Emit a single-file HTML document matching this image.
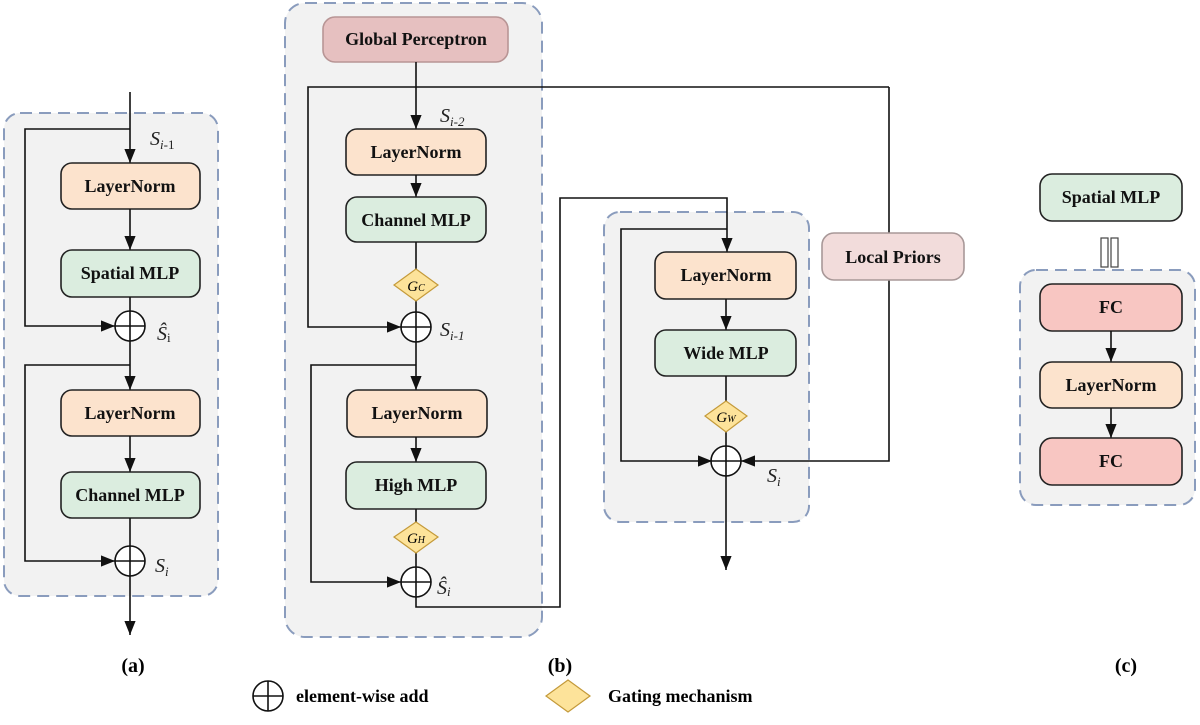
<!DOCTYPE html>
<html><head><meta charset="utf-8"><style>
html,body{margin:0;padding:0;background:#fff;}
svg{display:block;}
text{font-family:"Liberation Serif",serif;}
.b{font-weight:bold;font-size:18px;text-anchor:middle;fill:#111;}
.lab{font-style:italic;font-size:20px;fill:#222;}
.sub{font-style:italic;font-size:13px;}
.ln{stroke:#111;stroke-width:1.6;fill:none;}
.ct{fill:#f2f2f2;stroke:#8a9cbd;stroke-width:2;stroke-dasharray:12 7;}
.lnorm{fill:#fce3cd;stroke:#222;stroke-width:1.6;}
.mlp{fill:#dbeddf;stroke:#222;stroke-width:1.6;}
.dia{fill:#fde39a;stroke:#c49a3a;stroke-width:1.2;}
</style></head><body>
<svg width="1200" height="725" viewBox="0 0 1200 725" xmlns="http://www.w3.org/2000/svg">
<defs>
<marker id="a" viewBox="0 0 10 10" markerWidth="14" markerHeight="14" refX="10" refY="5" orient="auto" markerUnits="userSpaceOnUse">
<path d="M0,1 L10,5 L0,9 z" fill="#111"/>
</marker>
</defs>

<rect class="ct" x="4" y="113" width="214" height="483" rx="16"/>
<rect class="ct" x="285" y="3" width="257" height="634" rx="20"/>
<rect class="ct" x="604" y="212" width="205" height="310" rx="16"/>
<rect class="ct" x="1020" y="270" width="175" height="235" rx="16"/>

<!-- (a) -->
<line class="ln" x1="130" y1="92" x2="130" y2="163" marker-end="url(#a)"/>
<polyline class="ln" points="130,129 25,129 25,326 115,326" marker-end="url(#a)"/>
<rect class="lnorm" x="61" y="163" width="139" height="46" rx="11"/>
<text class="b" x="130" y="192">LayerNorm</text>
<line class="ln" x1="130" y1="209" x2="130" y2="250" marker-end="url(#a)"/>
<rect class="mlp" x="61" y="250" width="139" height="47" rx="11"/>
<text class="b" x="130" y="279">Spatial MLP</text>
<line class="ln" x1="130" y1="297" x2="130" y2="311"/>
<line class="ln" x1="130" y1="341" x2="130" y2="390" marker-end="url(#a)"/>
<polyline class="ln" points="130,365 25,365 25,561 115,561" marker-end="url(#a)"/>
<rect class="lnorm" x="61" y="390" width="139" height="46" rx="11"/>
<text class="b" x="130" y="419">LayerNorm</text>
<line class="ln" x1="130" y1="436" x2="130" y2="472" marker-end="url(#a)"/>
<rect class="mlp" x="61" y="472" width="139" height="46" rx="11"/>
<text class="b" x="130" y="501">Channel MLP</text>
<line class="ln" x1="130" y1="518" x2="130" y2="546"/>
<line class="ln" x1="130" y1="576" x2="130" y2="635" marker-end="url(#a)"/>
<g class="ln"><circle cx="130" cy="326" r="15" fill="#fff"/><line x1="115" y1="326" x2="145" y2="326"/><line x1="130" y1="311" x2="130" y2="341"/></g>
<g class="ln"><circle cx="130" cy="561" r="15" fill="#fff"/><line x1="115" y1="561" x2="145" y2="561"/><line x1="130" y1="546" x2="130" y2="576"/></g>
<text class="lab" x="150" y="145">S<tspan class="sub" dy="4">i</tspan><tspan font-size="13" font-style="normal">-1</tspan></text>
<text class="lab" x="157" y="340">Ŝ<tspan font-size="13" font-style="normal" dy="2">i</tspan></text>
<text class="lab" x="155" y="572">S<tspan class="sub" dy="4">i</tspan></text>
<text x="133" y="672" font-size="20" font-weight="bold" text-anchor="middle">(a)</text>

<!-- (b) -->
<rect x="323" y="17" width="185" height="45" rx="12" fill="#e6c0c0" stroke="#b89595" stroke-width="1.6"/>
<text class="b" x="416" y="45">Global Perceptron</text>
<line class="ln" x1="416" y1="62" x2="416" y2="129" marker-end="url(#a)"/>
<polyline class="ln" points="889,87 308,87 308,327 401,327" marker-end="url(#a)"/>
<rect class="lnorm" x="346" y="129" width="140" height="46" rx="11"/>
<text class="b" x="416" y="158">LayerNorm</text>
<line class="ln" x1="416" y1="175" x2="416" y2="197" marker-end="url(#a)"/>
<rect class="mlp" x="346" y="197" width="140" height="45" rx="11"/>
<text class="b" x="416" y="226">Channel MLP</text>
<line class="ln" x1="416" y1="242" x2="416" y2="312"/>
<polygon class="dia" points="416,269 438,285 416,301 394,285"/>
<text x="416" y="291" font-size="15" font-style="italic" text-anchor="middle">G<tspan font-size="10">C</tspan></text>
<line class="ln" x1="416" y1="342" x2="416" y2="390" marker-end="url(#a)"/>
<polyline class="ln" points="416,365 311,365 311,582 401,582" marker-end="url(#a)"/>
<rect class="lnorm" x="347" y="390" width="140" height="47" rx="11"/>
<text class="b" x="417" y="419">LayerNorm</text>
<line class="ln" x1="416" y1="437" x2="416" y2="462" marker-end="url(#a)"/>
<rect class="mlp" x="346" y="462" width="140" height="47" rx="11"/>
<text class="b" x="416" y="491">High MLP</text>
<line class="ln" x1="416" y1="509" x2="416" y2="567"/>
<polygon class="dia" points="416,522 438,537 416,553 394,537"/>
<text x="416" y="543" font-size="15" font-style="italic" text-anchor="middle">G<tspan font-size="10">H</tspan></text>
<g class="ln"><circle cx="416" cy="327" r="15" fill="#fff"/><line x1="401" y1="327" x2="431" y2="327"/><line x1="416" y1="312" x2="416" y2="342"/></g>
<g class="ln"><circle cx="416" cy="582" r="15" fill="#fff"/><line x1="401" y1="582" x2="431" y2="582"/><line x1="416" y1="567" x2="416" y2="597"/></g>
<polyline class="ln" points="416,597 416,607 560,607 560,198 727,198 727,252" marker-end="url(#a)"/>
<text class="lab" x="440" y="122">S<tspan class="sub" dy="4">i</tspan><tspan font-size="13">-2</tspan></text>
<text class="lab" x="440" y="336">S<tspan class="sub" dy="4">i</tspan><tspan font-size="13">-1</tspan></text>
<text class="lab" x="437" y="594">Ŝ<tspan font-size="13" dy="2">i</tspan></text>
<text x="560" y="672" font-size="20" font-weight="bold" text-anchor="middle">(b)</text>

<!-- right block -->
<polyline class="ln" points="727,229 621,229 621,461 712,461" marker-end="url(#a)"/>
<rect class="lnorm" x="655" y="252" width="141" height="47" rx="11"/>
<text class="b" x="726" y="281">LayerNorm</text>
<line class="ln" x1="726" y1="299" x2="726" y2="330" marker-end="url(#a)"/>
<rect class="mlp" x="655" y="330" width="141" height="46" rx="11"/>
<text class="b" x="726" y="359">Wide MLP</text>
<line class="ln" x1="726" y1="376" x2="726" y2="446"/>
<polygon class="dia" points="726,401 747,416 726,432 705,416"/>
<text x="726" y="422" font-size="15" font-style="italic" text-anchor="middle">G<tspan font-size="10">W</tspan></text>
<g class="ln"><circle cx="726" cy="461" r="15" fill="#fff"/><line x1="711" y1="461" x2="741" y2="461"/><line x1="726" y1="446" x2="726" y2="476"/></g>
<line class="ln" x1="726" y1="476" x2="726" y2="570" marker-end="url(#a)"/>
<line class="ln" x1="889" y1="87" x2="889" y2="233"/>
<polyline class="ln" points="889,280 889,461 741,461" marker-end="url(#a)"/>
<rect x="822" y="233" width="142" height="47" rx="12" fill="#f2dcdb" stroke="#a89898" stroke-width="1.6"/>
<text class="b" x="893" y="263">Local Priors</text>
<text class="lab" x="767" y="482">S<tspan class="sub" dy="4">i</tspan></text>

<!-- (c) -->
<rect class="mlp" x="1040" y="174" width="142" height="47" rx="12"/>
<text class="b" x="1111" y="203">Spatial MLP</text>
<rect x="1101" y="238" width="7" height="29" fill="#fff" stroke="#444" stroke-width="1.2"/>
<rect x="1111" y="238" width="7" height="29" fill="#fff" stroke="#444" stroke-width="1.2"/>
<rect x="1040" y="284" width="142" height="47" rx="12" fill="#f8c6c2" stroke="#222" stroke-width="1.6"/>
<text class="b" x="1111" y="313">FC</text>
<line class="ln" x1="1111" y1="331" x2="1111" y2="362" marker-end="url(#a)"/>
<rect class="lnorm" x="1040" y="362" width="142" height="46" rx="12"/>
<text class="b" x="1111" y="391">LayerNorm</text>
<line class="ln" x1="1111" y1="408" x2="1111" y2="438" marker-end="url(#a)"/>
<rect x="1040" y="438" width="142" height="47" rx="12" fill="#f8c6c2" stroke="#222" stroke-width="1.6"/>
<text class="b" x="1111" y="467">FC</text>
<text x="1126" y="672" font-size="20" font-weight="bold" text-anchor="middle">(c)</text>

<!-- legend -->
<g class="ln"><circle cx="268" cy="696" r="15" fill="#fff"/><line x1="253" y1="696" x2="283" y2="696"/><line x1="268" y1="681" x2="268" y2="711"/></g>
<text x="296" y="702" font-size="18" font-weight="bold">element-wise add</text>
<polygon class="dia" points="568,680 590,696 568,712 546,696"/>
<text x="608" y="702" font-size="18" font-weight="bold">Gating mechanism</text>
</svg>
</body></html>
